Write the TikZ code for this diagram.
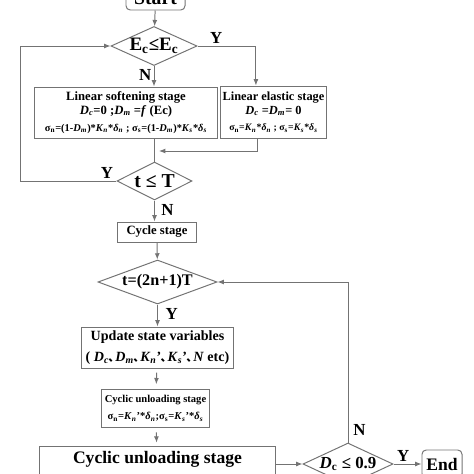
\documentclass[tikz,border=0pt]{standalone}
\usepackage{fontspec}
\setmainfont{Liberation Serif}
\newfontfamily\cjk{Noto Sans CJK SC}
\usetikzlibrary{shapes.geometric,arrows.meta}
\newcommand{\qsub}[2]{\textit{#1}\textsubscript{\textit{#2}}}
\newcommand{\fsz}[1]{\fontsize{#1}{#1}\selectfont\bfseries}
\newcommand{\dun}{\kern-0.5pt{\cjk\fontsize{8}{8}\selectfont 、}\kern-3pt}

\begin{document}
\begin{tikzpicture}[x=0.025cm, y=-0.025cm,
    box/.style={draw=black!55, line width=0.7pt, rectangle, align=center, inner sep=0.5pt},
    decision/.style={draw=black!55, line width=0.7pt, diamond, inner sep=0pt},
    line/.style={draw=black!55, line width=0.7pt},
    arrow/.style={line, -{Latex[length=4.5pt,width=3.5pt]}},
    lab/.style={font=\fsz{12}, inner sep=1.5pt}]
        % the chart runs past the top and bottom edge of the frame
        \useasboundingbox (0,0) rectangle (474,474);
        \clip (0,0) rectangle (474,474);

        \node[box, rounded corners=3pt, minimum width=1.475cm, minimum height=0.6cm, font=\fsz{14}] (start) at (155.5,-2) {Start};
        \node[decision, aspect=2.2, minimum width=2.15cm, minimum height=0.975cm, font=\fsz{13.5}] (d1) at (154,46) {E\textsubscript{c}≤E\textsubscript{c}};

        \node[box, minimum width=4.55cm, minimum height=1.275cm, font=\fsz{9}] (soft) at (126,112.5)
            {Linear softening stage\\[1pt]
             \qsub{D}{c}=0 ;\qsub{D}{m} =\textit{f} (Ec)\\[3pt]
             \fsz{7.4}σ\textsubscript{n}=(1-\qsub{D}{m})*\qsub{K}{n}*\qsub{δ}{n} ; σ\textsubscript{s}=(1-\qsub{D}{m})*\qsub{K}{s}*\qsub{δ}{s}};
        \node[box, minimum width=2.625cm, minimum height=1.3cm, font=\fsz{8.8}] (elastic) at (273.5,112)
            {Linear elastic stage\\[1pt]
             \qsub{D}{c} =\qsub{D}{m}= 0\\[3pt]
             \fsz{7}σ\textsubscript{n}=\qsub{K}{n}*\qsub{δ}{n} ; σ\textsubscript{s}=\qsub{K}{s}*\qsub{δ}{s}};

        \node[decision, aspect=2, minimum width=1.875cm, minimum height=0.95cm, font=\fsz{14}] (d2) at (154.5,181) {t ≤ T};
        \node[box, minimum width=1.95cm, minimum height=0.5cm, font=\fsz{9}] (cycle) at (157,232) {Cycle stage};
        \node[decision, aspect=2.7, minimum width=2.975cm, minimum height=1.1cm, font=\fsz{11.5}] (d3) at (157.5,282) {t=(2n+1)T};

        \node[box, minimum width=3.775cm, minimum height=1.025cm, font=\fsz{10}] (update) at (157.5,347.5)
            {Update state variables\\[5pt]
             ( \qsub{D}{c}\dun\qsub{D}{m}\dun\qsub{K}{n}'\dun\qsub{K}{s}'\dun\textit{N} etc)};
        \node[box, minimum width=2.675cm, minimum height=0.95cm, font=\fsz{7.5}] (small) at (155.5,408)
            {Cyclic unloading stage\\[5pt]
             \fsz{7.5}σ\textsubscript{n}=\qsub{K}{n}'*\qsub{δ}{n};σ\textsubscript{s}=\qsub{K}{s}'*\qsub{δ}{s}};
        \node[box, minimum width=5.875cm, minimum height=1.2cm, font=\fsz{12.5}] (big) at (157.5,470)
            {Cyclic unloading stage\\[4pt]
             \fsz{7.5}σ\textsubscript{n}=\qsub{K}{n}'(1-\qsub{D}{c})(1-\qsub{D}{m})*\qsub{δ}{n} ; σ\textsubscript{s}=\qsub{K}{s}'(1-\qsub{D}{c})(1-\qsub{D}{m})*\qsub{δ}{s}};

        \node[decision, aspect=2.1, minimum width=2.25cm, minimum height=1.05cm, font=\fsz{12}] (d4) at (348,464) {\textit{D}\textsubscript{c} ≤ 0.9};
        \node[box, rounded corners=3pt, minimum width=1cm, minimum height=0.7cm, font=\fsz{12.5}] (end) at (442,464) {End};

        \coordinate (merge) at (159,151);
        \coordinate (loop) at (20,181);

        \draw[arrow] (start) -- (d1);
        \draw[arrow] (d1.east) -| node[lab, above, pos=0.16] {Y} ([xshift=-0.44cm]elastic.north);
        \draw[arrow] (d1.south) -- node[lab, left, pos=0.45] {N} (d1.south |- soft.north);
        \draw[line] (d2.north |- soft.south) -- (d2.north);
        \draw[arrow] ([xshift=-0.41cm]elastic.south) |- (merge);
        \draw[arrow] (d2.west) -- node[lab, above, pos=0.1] {Y} (loop) |- (d1.west);
        \draw[arrow] (d2.south) -- node[lab, right, pos=0.45, xshift=3pt] {N} (d2.south |- cycle.north);
        \draw[arrow] (cycle) -- (d3);
        \draw[arrow] (d4.north) |- node[lab, right, pos=0.04, xshift=2pt] {N} (d3.east);
        \draw[arrow] (d3.south) -- node[lab, right, pos=0.45, xshift=4pt] {Y} (d3.south |- update.north);
        \draw[arrow, shorten <=3pt, shorten >=3pt] (update) -- (small);
        \draw[arrow, shorten <=3.5pt, shorten >=2pt] (small) -- (big);
        \draw[arrow] (big.east |- d4.west) -- (d4.west);
        \draw[arrow] (d4.east) -- node[lab, above, pos=0.35] {Y} (end.west);
\end{tikzpicture}
\end{document}
